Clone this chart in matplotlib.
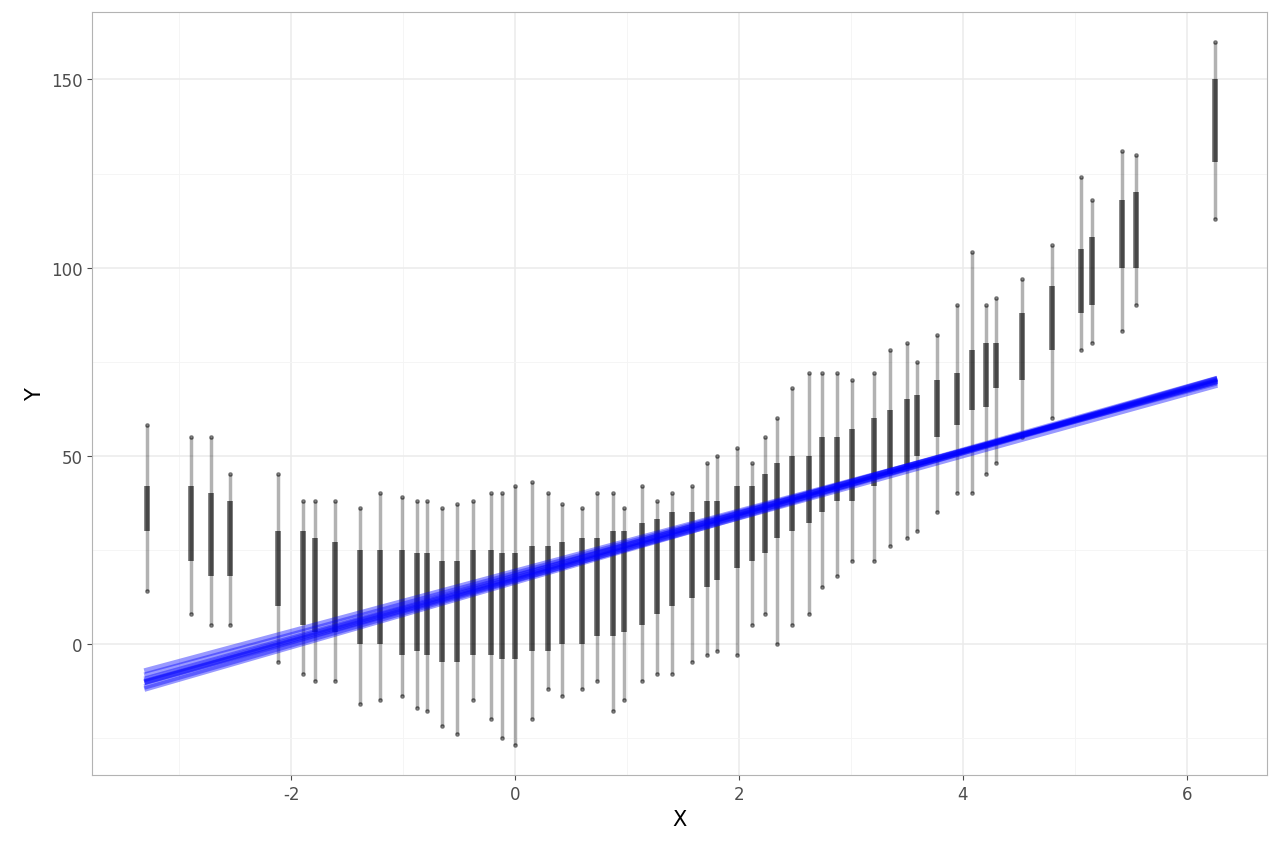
import matplotlib.pyplot as plt
import numpy as np

plt.rcParams["axes.unicode_minus"] = False

# columns of points: x position, low, lower quartile, upper quartile, high
col_x = [-3.29, -2.90, -2.72, -2.55, -2.12, -1.90, -1.79, -1.61, -1.39, -1.21,
         -1.01, -0.88, -0.79, -0.65, -0.52, -0.38, -0.22, -0.12, 0.00, 0.15,
         0.29, 0.42, 0.60, 0.73, 0.87, 0.97, 1.13, 1.27, 1.40, 1.58,
         1.71, 1.80, 1.98, 2.12, 2.23, 2.34, 2.47, 2.63, 2.74, 2.88,
         3.01, 3.21, 3.35, 3.50, 3.59, 3.77, 3.95, 4.08, 4.21, 4.30,
         4.53, 4.80, 5.06, 5.15, 5.42, 5.55, 6.25]
col_lo = [14, 8, 5, 5, -5, -8, -10, -10, -16, -15,
          -14, -17, -18, -22, -24, -15, -20, -25, -27, -20,
          -12, -14, -12, -10, -18, -15, -10, -8, -8, -5,
          -3, -2, -3, 5, 8, 0, 5, 8, 15, 18,
          22, 22, 26, 28, 30, 35, 40, 40, 45, 48,
          55, 60, 78, 80, 83, 90, 113]
col_q1 = [30, 22, 18, 18, 10, 5, 3, 3, 0, 0,
          -3, -2, -3, -5, -5, -3, -3, -4, -4, -2,
          -2, 0, 0, 2, 2, 3, 5, 8, 10, 12,
          15, 17, 20, 22, 24, 28, 30, 32, 35, 38,
          38, 42, 45, 47, 50, 55, 58, 62, 63, 68,
          70, 78, 88, 90, 100, 100, 128]
col_q3 = [42, 42, 40, 38, 30, 30, 28, 27, 25, 25,
          25, 24, 24, 22, 22, 25, 25, 24, 24, 26,
          26, 27, 28, 28, 30, 30, 32, 33, 35, 35,
          38, 38, 42, 42, 45, 48, 50, 50, 55, 55,
          57, 60, 62, 65, 66, 70, 72, 78, 80, 80,
          88, 95, 105, 108, 118, 120, 150]
col_hi = [58, 55, 55, 45, 45, 38, 38, 38, 36, 40,
          39, 38, 38, 36, 37, 38, 40, 40, 42, 43,
          40, 37, 36, 40, 40, 36, 42, 38, 40, 42,
          48, 50, 52, 48, 55, 60, 68, 72, 72, 72,
          70, 72, 78, 80, 75, 82, 90, 104, 90, 92,
          97, 106, 124, 118, 131, 130, 160]

# bootstrap regression lines: intercept, slope
line_b0 = [16.8, 17.4, 18.0, 18.6, 17.8, 16.4, 19.2, 17.0]
line_b1 = [8.55, 8.35, 8.30, 8.15, 8.40, 8.60, 8.00, 8.25]

fig, ax = plt.subplots(figsize=(12.8, 8.53), dpi=100)
fig.subplots_adjust(left=0.072, right=0.99, bottom=0.09, top=0.985)

ax.vlines(col_x, col_lo, col_hi, color="black", alpha=0.3, linewidth=2.5)
ax.vlines(col_x, col_q1, col_q3, color="black", alpha=0.6, linewidth=4)
ax.scatter(col_x + col_x, col_lo + col_hi, s=6, color="black", alpha=0.4)

xs = np.array([min(col_x), max(col_x)])
for b0, b1 in zip(line_b0, line_b1):
    ax.plot(xs, b0 + b1 * xs, color="blue", alpha=0.4, linewidth=4)

ax.set_xlim(-3.78, 6.72)
ax.set_ylim(-35, 168)
ax.set_xticks([-2, 0, 2, 4, 6])
ax.set_yticks([0, 50, 100, 150])
ax.set_xticks([-3, -1, 1, 3, 5], minor=True)
ax.set_yticks([-25, 25, 75, 125], minor=True)
ax.grid(which="major", color="#ebebeb", linewidth=1.1)
ax.grid(which="minor", color="#f4f4f4", linewidth=0.6)
ax.set_axisbelow(True)
for sp in ax.spines.values():
    sp.set_color("#b3b3b3")
ax.tick_params(which="both", color="#4d4d4d", labelcolor="#4d4d4d", labelsize=12)
ax.tick_params(which="minor", length=0)
ax.set_xlabel("X", fontsize=15)
ax.set_ylabel("Y", fontsize=15)

fig.savefig("out.png", dpi=100)
